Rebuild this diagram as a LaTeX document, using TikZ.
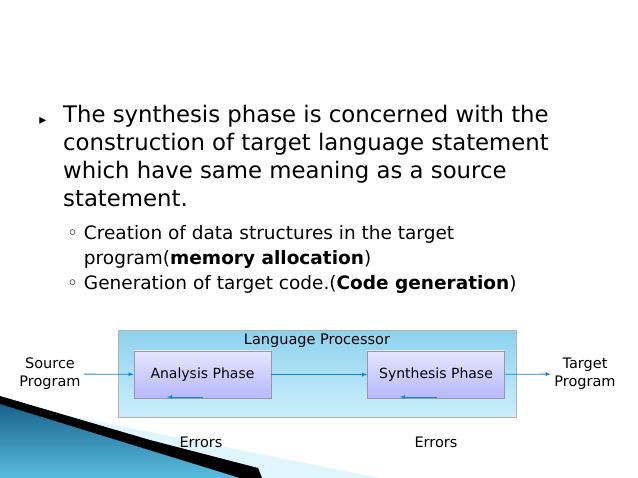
\documentclass[tikz,border=0pt]{standalone}
\usepackage{fontspec}
\setmainfont{DejaVu Sans}
\definecolor{lpt}{RGB}{140,210,238}
\definecolor{lpb}{RGB}{205,238,252}
\definecolor{swt}{RGB}{20,90,130}
\definecolor{swb}{RGB}{90,190,225}
\begin{document}
\begin{tikzpicture}[x=1pt,y=-1pt,
  inner/.style={draw=black!40,top color=blue!10,bottom color=blue!28,minimum width=137pt,minimum height=47pt,font=\fontsize{14}{16}\selectfont},
  lbl/.style={font=\fontsize{14.5}{18}\selectfont,align=center},
  arr/.style={draw=cyan!70!blue,thick,-latex}]
\useasboundingbox (0,0) rectangle (638,478);
% swoosh
\fill[cyan!12!white] (40,410) -- (380,478) -- (0,478) -- cycle;
\fill[top color=swt,bottom color=swb] (0,398) -- (255,478) -- (0,478) -- cycle;
\fill[black] (0,396) -- (150,440) -- (258,468) -- (262,478) -- (240,478) -- (0,404) -- cycle;
% text
\node[font=\fontsize{14}{14}\selectfont] (b1) at (43,121) {▸};
\node[anchor=north west,align=left,font=\fontsize{22.8}{28}\selectfont,inner sep=0] (t1) at (63,105)
 {The synthesis phase is concerned with the\\construction of target language statement\\which have same meaning as a source\\statement.};
\node[anchor=north west,align=left,font=\fontsize{18.5}{25}\selectfont,inner sep=0] (t2) at (67,225)
 {◦ Creation of data structures in the target\\\phantom{◦ }program(\textbf{memory allocation})\\◦ Generation of target code.(\textbf{Code generation})};
% diagram
\node[draw=black!30,top color=lpt,bottom color=lpb,minimum width=398pt,minimum height=87pt,anchor=north west] (lp) at (118,330) {};
\node[lbl] (lpt) at (317,341) {Language Processor};
\node[inner] (an) at (202.5,374.5) {Analysis Phase};
\node[inner] (sy) at (436,374.5) {Synthesis Phase};
\node[lbl] (src) at (50,374) {Source\\Program};
\node[lbl] (tgt) at (585,374) {Target\\Program};
\node[lbl] (e1) at (201,442) {Errors};
\node[lbl] (e2) at (436,442) {Errors};
\draw[arr] (src) -- (an);
\draw[arr] (an) -- (sy);
\draw[arr] (sy) -- (tgt);
\coordinate (ea) at (203,397); \coordinate (eb) at (167,397);
\coordinate (ec) at (437,397); \coordinate (ed) at (400,397);
\draw[arr] (ea) -- (eb);
\draw[arr] (ec) -- (ed);
\end{tikzpicture}
\end{document}
